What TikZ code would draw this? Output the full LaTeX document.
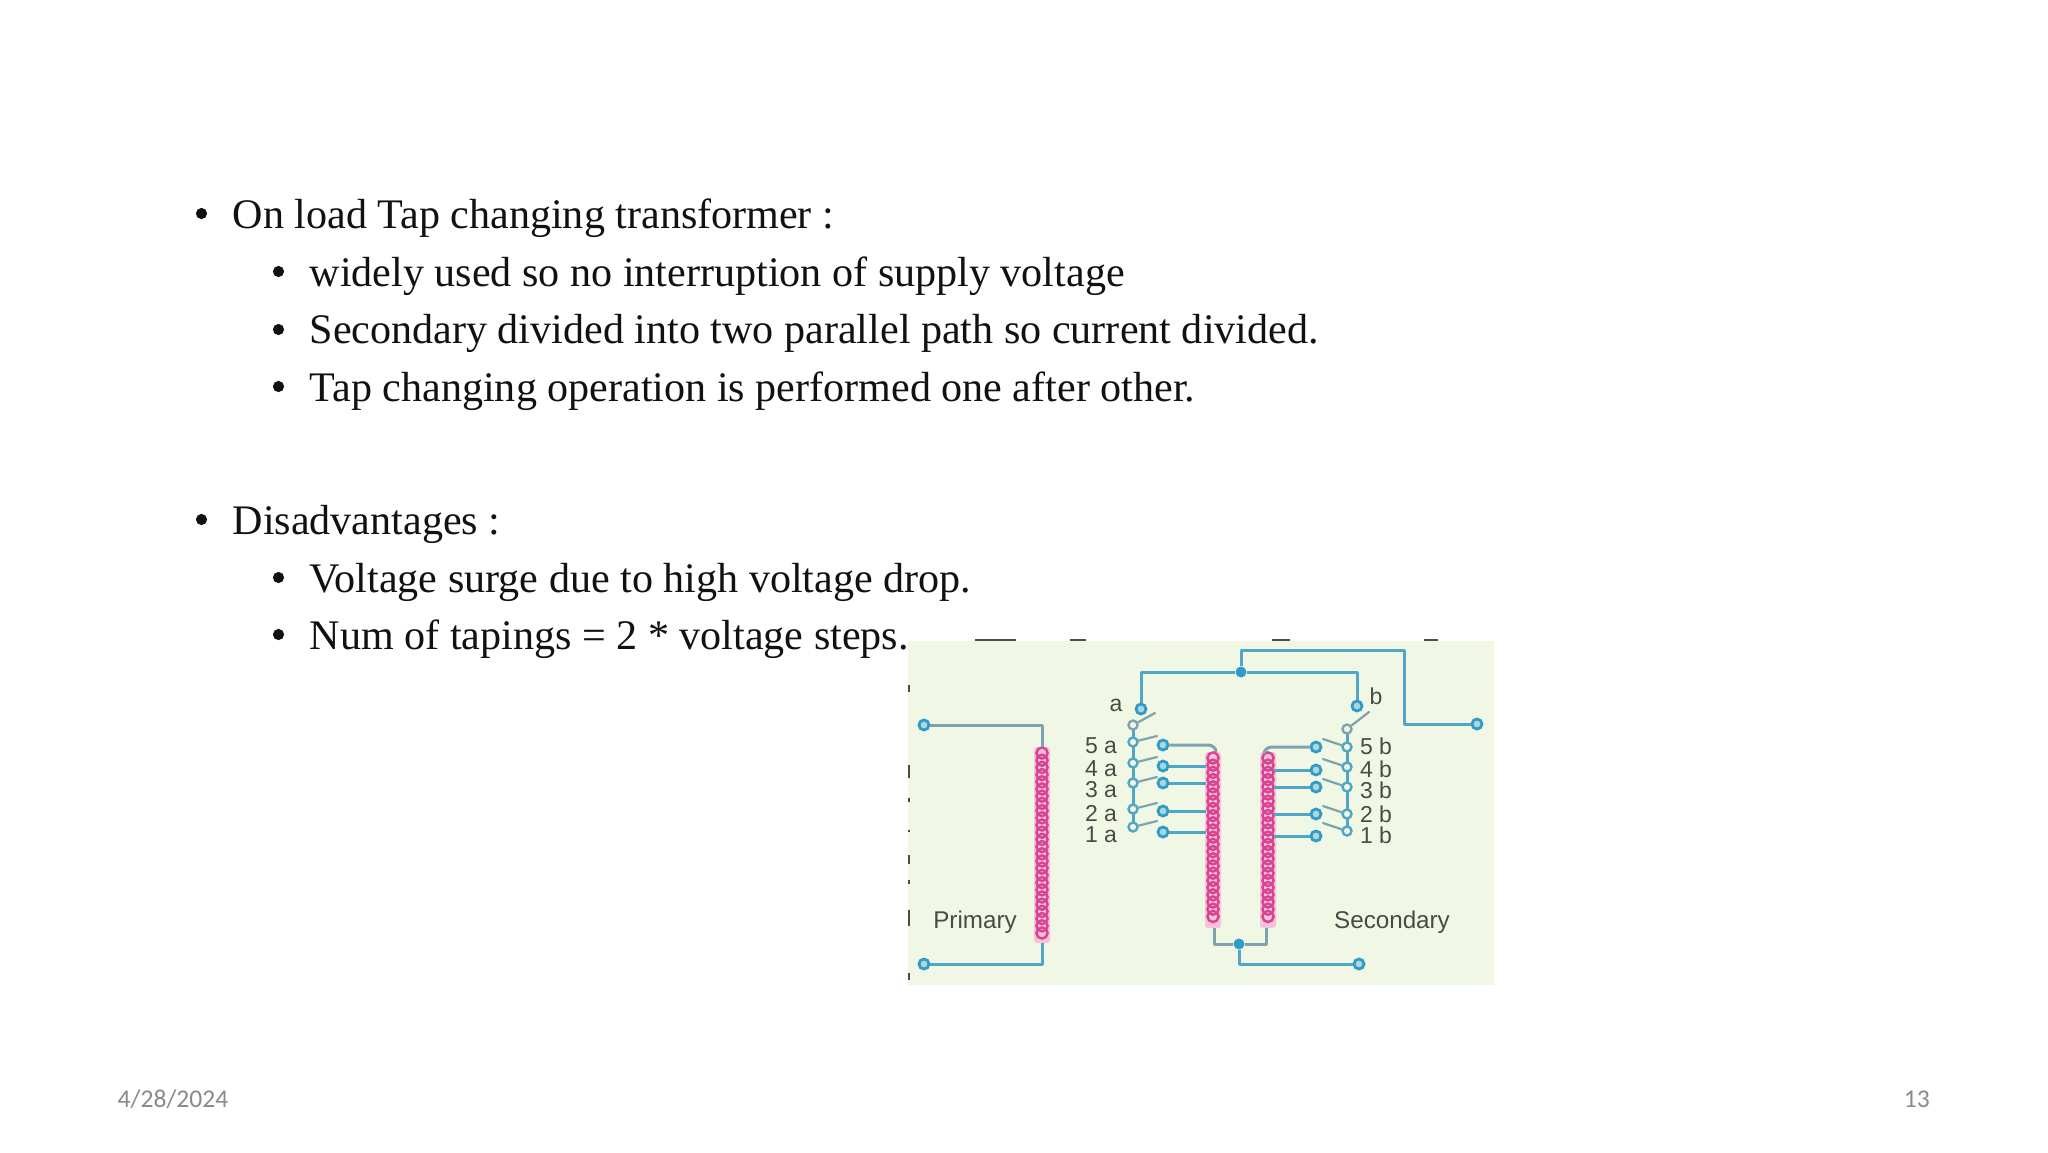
\documentclass[tikz,border=0pt]{standalone}
\usepackage{fontspec}
\setmainfont{Liberation Serif}
\newfontfamily\footfont{Carlito}
\newfontfamily\lblfont{Liberation Sans}
\definecolor{panelbg}{HTML}{F1F7E5}
\definecolor{wireblue}{HTML}{4FA6C6}
\definecolor{wiregray}{HTML}{7FA3AE}
\definecolor{dotblue}{HTML}{2F9CC8}
\definecolor{coilpink}{HTML}{D9438F}
\definecolor{coilband}{HTML}{F6C3DA}
\definecolor{footgray}{HTML}{8A8A8A}
\definecolor{lblgray}{HTML}{4A4A48}
\definecolor{ink}{HTML}{111111}
\tikzset{
  body/.style={anchor=base west,inner sep=0pt,text=ink,font=\fontsize{42.1}{50}\selectfont},
  foot/.style={inner sep=0pt,text=footgray,font=\footfont\fontsize{25.6}{30}\selectfont},
  lbl/.style={inner sep=0pt,text=lblgray,font=\lblfont\fontsize{23}{26}\selectfont},
  bigl/.style={inner sep=0pt,text=lblgray,font=\lblfont\fontsize{24.2}{28}\selectfont},
  wire/.style={draw=wireblue,line width=3pt,line join=round},
  grayw/.style={draw=wiregray,line width=3pt,line join=round},
  blade/.style={draw=wiregray,line width=2.2pt,line cap=round},
  term/.style={circle,draw=dotblue,fill=panelbg!65!dotblue,line width=2.8pt,minimum size=10pt,inner sep=0pt},
  stud/.style={circle,draw=wireblue,fill=panelbg,line width=2.4pt,minimum size=9pt,inner sep=0pt},
  junc/.style={circle,fill=dotblue,minimum size=11pt,inner sep=0pt},
  loopc/.style={draw=coilpink,line width=2.4pt},
  band/.style={fill=coilband,draw=none,rounded corners=3pt},
  tick/.style={draw=black!70,line width=1.6pt}
}
\newcommand{\coilat}[3]{%
  \fill[band] (#1-8,#2) rectangle (#1+8,#3);
  \pgfmathsetmacro{\ystart}{#2+6}
  \pgfmathsetmacro{\ynext}{#2+13.2}
  \pgfmathsetmacro{\yend}{#3-5}
  \foreach \yy in {\ystart,\ynext,...,\yend}{\draw[loopc] (#1,\yy) circle (5.6);}
}
\begin{document}
\begin{tikzpicture}[x=1pt,y=-1pt]
\useasboundingbox (0,0) rectangle (2048,1152);
\fill[white] (0,0) rectangle (2048,1152);
% panel
\fill[panelbg] (908,641) rectangle (1494,985);
% scraps of covered text and ticks at the panel edge
\foreach \a/\b in {975/1016,1070/1086,1272/1290,1424/1438}{\draw[tick] (\a,640) -- (\b,640);}
\foreach \a/\b in {685/692,765/778,798/802,830/832,855/864,880/884,910/926,973/980}{\draw[tick] (909,\a) -- (909,\b);}
% body text
\node[body] (l1) at (232.5,228.5) {On load Tap changing transformer :};
\node[body] (l2) at (309.5,286) {widely used so no interruption of supply voltage};
\node[body] (l3) at (309.5,343.5) {Secondary divided into two parallel path so current divided.};
\node[body] (l4) at (309.5,401) {Tap changing operation is performed one after other.};
\node[body] (l5) at (232.5,534) {Disadvantages :};
\node[body] (l6) at (309.5,592) {Voltage surge due to high voltage drop.};
\node[body] (l7) at (309.5,649) {Num of tapings = 2 * voltage steps.};
\foreach \x/\y in {201.5/213.5,278.5/271.5,278.5/329.5,278.5/386.5,201.5/519.5,278.5/577.5,278.5/634.5}{\fill[ink] (\x,\y) circle (5.6);}
% footer
\node[foot,anchor=base west] (date) at (117.5,1107) {4/28/2024};
\node[foot,anchor=base east] (page) at (1930,1107) {13};
% coils
\coilat{1042}{747}{943}
\coilat{1213}{752}{928}
\coilat{1268}{752}{928}
% terminals and junctions
\node[term] (pt) at (924,725) {};
\node[term] (pb) at (924,964) {};
\node[term] (out1) at (1477,724) {};
\node[term] (out2) at (1359,964) {};
\node[junc] (jt) at (1241,672) {};
\node[junc] (jb) at (1239,944) {};
\coordinate (pct) at (1042,747);
\coordinate (pcb) at (1042,943);
\coordinate (topbar) at (1241,650);
\coordinate (ml) at (1214,928);
\coordinate (mr) at (1266,928);
% primary
\draw[grayw] (pt) -- (1042,725) -- (pct);
\draw[wire] (pb) -- (1042,964) -- (pcb);
% top
\draw[wire] (jt) -- (topbar) -- (1404,650) -- (1404,724) -- (out1);
\node[term] (a) at (1141,709) {};
\node[term] (b) at (1357,706) {};
\draw[wire] (a) -- (1141,672) -- (jt) -- (1357,672) -- (b);
% bottom
\draw[grayw] (ml) -- (1214,944) -- (jb) -- (1266,944) -- (mr);
\draw[wire] (jb) -- (1239,964) -- (out2);
% bars
\draw[wire] (1133,725) -- (1133,827);
\draw[wire] (1347,729) -- (1347,831);
% left studs
\node[stud,draw=wiregray] (sa) at (1133,725) {};
\draw[blade] (sa) -- (1155,713);
\foreach \n/\yl/\yr in {5/742/745,4/763/766,3/783/783,2/809/811,1/827/832}{
  \node[stud] (la\n) at (1133,\yl) {};
  \node[term] (ra\n) at (1163,\yr) {};
  \draw[blade] (la\n) -- (1157,\yl-6);
}
\draw[grayw] (ra5) -- (1208,745) to[out=0,in=90] (1216,752);
\foreach \n/\yr in {4/766,3/783,2/811,1/832}{\draw[wire] (ra\n) -- (1206,\yr);}
% right studs
\node[stud,draw=wiregray] (sb) at (1347,729) {};
\draw[blade] (sb) -- (1369,712);
\foreach \n/\yr/\yl in {5/747/747,4/767/770,3/787/787,2/814/814,1/831/836}{
  \node[stud] (rb\n) at (1347,\yr) {};
  \node[term] (lb\n) at (1316,\yl) {};
  \draw[blade] (rb\n) -- (1323,\yr-8);
}
\draw[grayw] (lb5) -- (1272,747) to[out=180,in=90] (1264,754);
\foreach \n/\yl in {4/770,3/787,2/814,1/836}{\draw[wire] (lb\n) -- (1274,\yl);}
% labels
\node[lbl] (ta) at (1116,705) {a};
\node[lbl] (tb) at (1376,696) {b};
\foreach \n/\y in {5/746,4/769,3/790,2/814,1/835}{
  \node[lbl] (ta\n) at (1101,\y) {\n\ a};
  \node[lbl] (tb\n) at (1376,\y) {\n\ b};
}
\node[bigl] (prim) at (975,922) {Primary};
\node[bigl] (sec) at (1392,922) {Secondary};
\end{tikzpicture}
\end{document}
